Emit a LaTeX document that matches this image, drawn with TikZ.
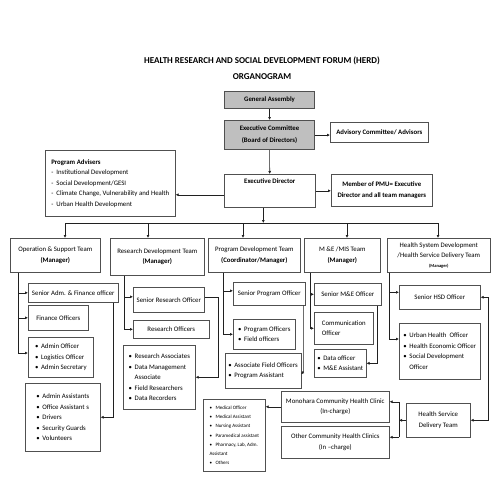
\documentclass[tikz,border=0pt]{standalone}
\usepackage{fontspec}
\setmainfont{Carlito}
\usetikzlibrary{arrows.meta, positioning, calc}
\definecolor{orgGray}{HTML}{BFBFBF}
\definecolor{orgEdge}{HTML}{505050}
\definecolor{orgLine}{HTML}{202020}
\newcommand{\blt}{\makebox[6pt][l]{\textbullet}}

\begin{document}
\begin{tikzpicture}[
  x=1pt, y=-1pt,
  font=\fontsize{6.8}{10.5}\selectfont,
  box/.style={draw=orgEdge, fill=white, line width=0.6pt, anchor=north west,
              align=center, inner xsep=3pt, inner ysep=2pt},
  gbox/.style={box, fill=orgGray, draw=orgEdge, line width=1.1pt,
              font=\fontsize{6.8}{12}\selectfont\bfseries},
  bbox/.style={box, font=\fontsize{6.8}{10.5}\selectfont\bfseries},
  lst/.style={box, align=left},
  arr/.style={-{Latex[length=3pt,width=3pt]}, draw=orgLine, line width=0.6pt},
  arrtwo/.style={{Latex[length=3pt,width=3pt]}-{Latex[length=3pt,width=3pt]}, draw=orgLine, line width=0.6pt},
  ln/.style={draw=orgLine, line width=0.6pt},
]
\fill[white] (0,0) rectangle (495,495);
\useasboundingbox (0,0) rectangle (495,495);

% ---- Title ----
\node[font=\fontsize{9}{16}\selectfont\bfseries, align=center] (title) at (262,68)
  {HEALTH RESEARCH AND SOCIAL DEVELOPMENT FORUM (HERD)\\ORGANOGRAM};

% ---- Governance ----
\node[gbox, minimum width=90pt, minimum height=17pt] (ga) at (224,91) {General Assembly};
\node[gbox, minimum width=90pt, minimum height=29pt] (ec) at (224,120) {Executive Committee\\(Board of Directors)};
\node[bbox, minimum width=98pt, minimum height=20pt] (adv) at (330,122) {Advisory Committee/ Advisors};
\node[bbox, minimum width=91pt, minimum height=33pt, text depth=19pt] (ed) at (224,174) {Executive Director};
\node[bbox, minimum width=101pt, minimum height=32pt] (pmu) at (331,174) {Member of PMU= Executive\\Director and all team managers};
\node[lst, minimum width=130pt, minimum height=66pt] (padv) at (45,150)
  {\textbf{Program Advisers}\\-\ \ Institutional Development\\-\ \ Social Development/GESI\\-\ \ Climate Change, Vulnerability and Health\\-\ \ Urban Health Development};

% ---- Teams ----
\node[box, minimum width=90pt, minimum height=34pt] (ops) at (10,238) {Operation \& Support Team\\\textbf{(Manager)}};
\node[box, minimum width=94pt, minimum height=37pt] (rdt) at (110,238) {Research Development Team\\\textbf{(Manager)}};
\node[box, minimum width=92pt, minimum height=34pt] (pdt) at (208,238) {Program Development Team\\\textbf{(Coordinator/Manager)}};
\node[box, minimum width=76pt, minimum height=34pt] (met) at (304,238) {M \&E /MIS Team\\\textbf{(Manager)}};
\node[box, minimum width=103pt, minimum height=34pt, font=\fontsize{6.8}{10}\selectfont] (hsd) at (387,238)
  {Health System Development\\/Health Service Delivery Team\\{\fontsize{4.5}{6}\selectfont\bfseries (Manager)}};

% ---- Operation & Support ----
\node[box, minimum width=90pt, minimum height=19pt] (s1) at (28,283) {Senior Adm. \& Finance officer};
\node[box, minimum width=60pt, minimum height=25pt] (s2) at (28,305) {Finance Officers};
\node[lst, minimum width=65pt, minimum height=40pt] (s3) at (28,337) {\blt Admin Officer\\\blt Logistics Officer\\\blt Admin Secretary};
\node[lst, minimum width=75pt, minimum height=68pt] (s4) at (25,383)
  {\blt Admin Assistants\\\blt Office Assistant s\\\blt Drivers\\\blt Security Guards\\\blt Volunteers};

% ---- Research ----
\node[box, minimum width=71pt, minimum height=25pt] (r1) at (133,287) {Senior Research Officer};
\node[box, minimum width=76pt, minimum height=18pt] (r2) at (133,320) {Research Officers};
\node[lst, minimum width=72pt, minimum height=64pt] (r3) at (123,345)
  {\blt Research Associates\\\blt Data Management\\\hspace*{6pt}Associate\\\blt Field Researchers\\\blt Data Recorders};

% ---- Program ----
\node[box, minimum width=72pt, minimum height=23pt] (p1) at (233,282) {Senior Program Officer};
\node[lst, minimum width=62pt, minimum height=30pt] (p2) at (233,319) {\blt Program Officers\\\blt Field officers};
\node[lst, minimum width=75pt, minimum height=35pt] (p3) at (225,353) {\blt Associate Field Officers\\\blt Program Assistant};

% ---- M&E ----
\node[box, minimum width=67pt, minimum height=22pt] (m1) at (314,283) {Senior M\&E Officer};
\node[lst, minimum width=59pt, minimum height=32pt] (m2) at (314,312) {Communication\\Officer};
\node[lst, minimum width=50pt, minimum height=28pt] (m3) at (314,349) {\blt Data officer\\\blt M\&E Assistant};

% ---- Health system ----
\node[lst, minimum width=81pt, minimum height=24pt] (h1) at (399,285) {Senior HSD Officer};
\node[lst, minimum width=81pt, minimum height=56pt] (h2) at (399,323)
  {\blt Urban Health\ \ Officer\\\blt Health Economic Officer\\\blt Social Development\\\hspace*{6pt}Officer};
\node[box, minimum width=64pt, minimum height=34pt] (hsdt) at (406,403) {Health Service\\Delivery Team};
\node[box, minimum width=108pt, minimum height=31pt] (mono) at (281,391) {Monohara Community Health Clinic\\(In-charge)};
\node[box, minimum width=108pt, minimum height=32pt] (oth) at (281,426) {Other Community Health Clinics\\(In --charge)};
\node[lst, minimum width=62pt, minimum height=72pt, font=\fontsize{5}{9.2}\selectfont] (med) at (203,399)
  {\blt Medical Officer\\\blt Medical Assistant\\\blt Nursing Assistant\\\blt Paramedical assistant\\\blt Pharmacy, Lab, Adm.\\Assistant\\\blt Others};

% ---- arrows: top ----
\draw[arr] (ga) -- (ec);
\draw[arr] (ec.east) -- (ec.east -| adv.west);
\draw[arr] (ec) -- (ed);
\draw[arr] (ed.east) -- (ed.east -| pmu.west);
\draw[arr] ($(ed.west)+(0,4)$) -- ($(ed.west -| padv.east)+(0,4)$);

% bus to the teams
\foreach \n/\xx in {1/65,2/148,3/243,4/347,5/438}
  \coordinate (d\n) at (\xx,223);
\draw[ln] (d1) -- (d5);
\draw[arr] ([xshift=-6.5pt]ed.south) -- ([xshift=-6.5pt]ed.south |- d1);
\foreach \n/\t in {1/ops,2/rdt,3/pdt,4/met,5/hsd}
  \draw[arr] (d\n) -- (d\n |- \t.north);

% ---- arrows: operation & support ----
\coordinate (t1) at ($(ops.south west)+(8,0)$);
\draw[ln] (t1) -- ($(t1 |- s3.north)+(0,16)$);
\draw[arr] (t1 |- s1.west) -- (s1.west);
\draw[arr] (t1 |- s2.west) -- (s2.west);
\draw[arr] ($(t1 |- s3.north)+(0,16)$) -- ($(s3.north west)+(0,16)$);
\draw[arr] ([xshift=-5pt]s1.south east) |- (s4.east);

% ---- arrows: research ----
\coordinate (t2) at ($(rdt.south west)+(14,0)$);
\draw[ln] (t2) -- (t2 |- r2.west);
\draw[arr] ($(t2 |- r1.west)+(0,-3)$) -- ($(r1.west)+(0,-3)$);
\draw[arr] (t2 |- r2.west) -- (r2.west);
\draw[arr] ($(r1.east)+(0,-3)$) -- ++(14,0) |- (r3.east);

% ---- arrows: program ----
\coordinate (t3) at ($(pdt.south west)+(15,0)$);
\draw[ln] (t3) -- (t3 |- p2.west);
\draw[arr] ($(t3 |- p1.west)+(0,-3)$) -- ($(p1.west)+(0,-3)$);
\draw[arr] (t3 |- p2.west) -- (p2.west);
\draw[arr] ([xshift=-2pt]p1.south east) -- ++(0,66) -- ($(p3.east)+(0,3.5)$);

% ---- arrows: M&E ----
\coordinate (t4) at ($(met.south west)+(6,0)$);
\draw[ln] (t4) -- (t4 |- m2.west);
\draw[arr] (t4 |- m1.west) -- (m1.west);
\draw[arr] (t4 |- m2.west) -- (m2.west);
\draw[arr] ([xshift=-4pt]m1.south east) |- (m3.east);

% ---- arrows: health system ----
\coordinate (t5) at ($(hsd.south west)+(2,0)$);
\draw[ln] (t5) -- ($(t5 |- h2.north)+(0,16)$);
\draw[arr] ($(t5 |- h1.west)+(0,-5)$) -- ($(h1.west)+(0,-5)$);
\draw[arr] ($(t5 |- h2.north)+(0,16)$) -- ($(h2.north west)+(0,16)$);
\draw[arrtwo] (hsdt.east) -- ++(18,0) |- (h1.east);

% clinics
\coordinate (jn) at ($(hsdt.west)+(-7,0)$);
\draw[arr] (hsdt.west) -- (jn);
\draw[ln] ($(jn |- mono.east)+(0,-5)$) -- ($(jn |- oth.east)+(0,-5)$);
\draw[arr] ($(jn |- mono.east)+(0,-5)$) -- ($(mono.east)+(0,-5)$);
\draw[arr] ($(jn |- oth.east)+(0,-5)$) -- ($(oth.east)+(0,-5)$);
\draw[arr] (mono.west) -- (mono.west -| med.east);
\end{tikzpicture}
\end{document}
